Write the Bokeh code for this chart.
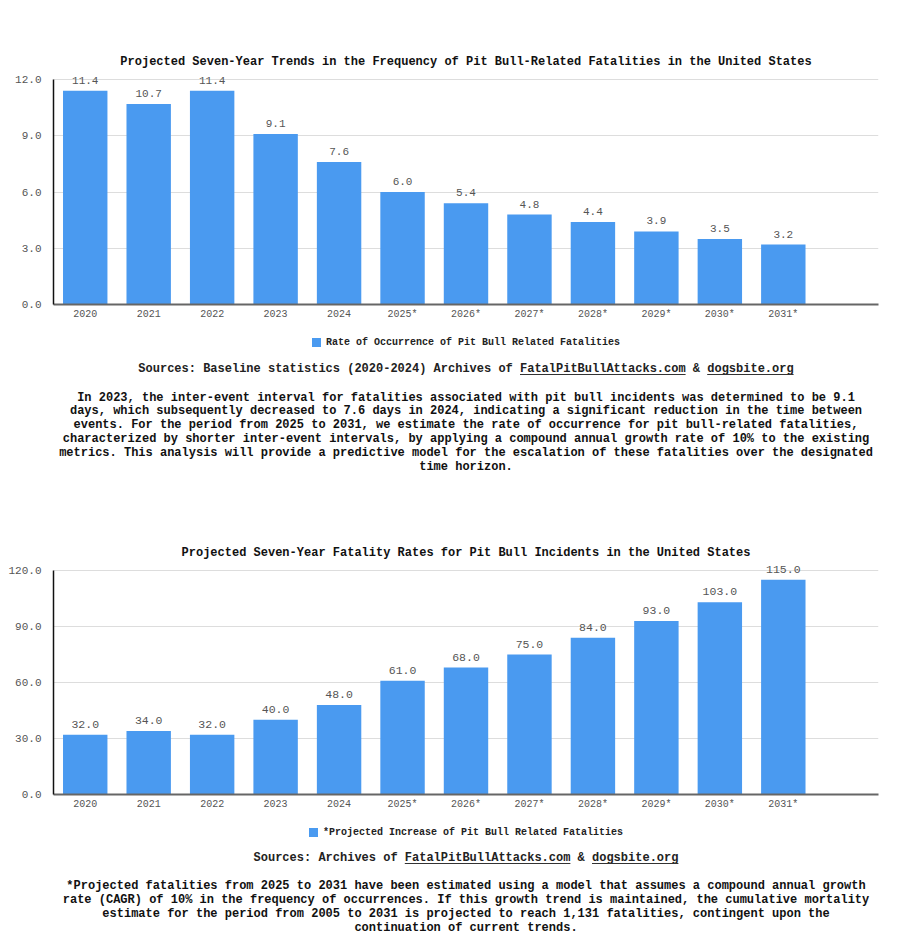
from bokeh.plotting import figure
from bokeh.models import Range1d, FixedTicker, PrintfTickFormatter, ColumnDataSource
from bokeh.layouts import column
from bokeh.core.properties import value
from bokeh.embed import file_html
from bokeh.resources import INLINE

FONT = "Liberation Mono"
BLUE = "#4a9af0"

years = ["2020", "2021", "2022", "2023", "2024", "2025*", "2026*", "2027*",
         "2028*", "2029*", "2030*", "2031*"]
rate_values = [11.4, 10.7, 11.4, 9.1, 7.6, 6.0, 5.4, 4.8, 4.4, 3.9, 3.5, 3.2]
fatality_values = [32.0, 34.0, 32.0, 40.0, 48.0, 61.0, 68.0, 75.0, 84.0, 93.0, 103.0, 115.0]

title1 = "Projected Seven-Year Trends in the Frequency of Pit Bull-Related Fatalities in the United States"
legend1 = "Rate of Occurrence of Pit Bull Related Fatalities"
sources1 = "Sources: Baseline statistics (2020-2024) Archives of FatalPitBullAttacks.com & dogsbite.org"
para1 = [
    "In 2023, the inter-event interval for fatalities associated with pit bull incidents was determined to be 9.1",
    "days, which subsequently decreased to 7.6 days in 2024, indicating a significant reduction in the time between",
    "events. For the period from 2025 to 2031, we estimate the rate of occurrence for pit bull-related fatalities,",
    "characterized by shorter inter-event intervals, by applying a compound annual growth rate of 10% to the existing",
    "metrics. This analysis will provide a predictive model for the escalation of these fatalities over the designated",
    "time horizon.",
]

title2 = "Projected Seven-Year Fatality Rates for Pit Bull Incidents in the United States"
legend2 = "*Projected Increase of Pit Bull Related Fatalities"
sources2 = "Sources: Archives of FatalPitBullAttacks.com & dogsbite.org"
para2 = [
    "*Projected fatalities from 2025 to 2031 have been estimated using a model that assumes a compound annual growth",
    "rate (CAGR) of 10% in the frequency of occurrences. If this growth trend is maintained, the cumulative mortality",
    "estimate for the period from 2005 to 2031 is projected to reach 1,131 fatalities, contingent upon the",
    "continuation of current trends.",
]
links = ["FatalPitBullAttacks.com", "dogsbite.org"]

W = 895
BL, BR = 53, 17          # left / right borders around the frames
FX0, FX1 = BL, W - BR    # frame extent in canvas pixels
CX = (FX0 + FX1) / 2


def bar_chart(title, values, ymax, ystep, height, top, bottom, axis_px, label_size):
    # frame is a little taller than the axis (top headroom so value labels are not clipped);
    # the top tick sits axis_px above the bottom of the frame
    frame_h = height - top - bottom
    yend = ymax * frame_h / axis_px
    p = figure(width=W, height=height, x_range=Range1d(-0.5, 12.5), y_range=Range1d(0, yend),
               output_backend="svg", toolbar_location=None,
               min_border_left=BL, min_border_right=BR, min_border_top=top,
               min_border_bottom=bottom)
    p.outline_line_color = None
    p.title.text = title
    p.title.align = "center"
    p.title.text_font = FONT
    p.title.text_font_size = "12px"
    p.title.text_font_style = "bold"
    p.title.text_color = "#111111"
    p.title.standoff = 0

    src = ColumnDataSource(dict(x=list(range(len(years))), top=values,
                                lab=[f"{v:.1f}" for v in values]))
    p.vbar(x="x", top="top", width=0.7, source=src, fill_color=BLUE, line_color=None)
    p.text(x="x", y="top", text="lab", source=src, text_align="center", text_baseline="bottom",
           y_offset=-7, text_font=value(FONT), text_font_size=label_size, text_color="#555555")

    p.xgrid.visible = False
    p.ygrid.grid_line_color = "#dddddd"
    p.ygrid.grid_line_width = 1

    xa = p.xaxis[0]
    xa.ticker = FixedTicker(ticks=list(range(len(years))))
    xa.major_label_overrides = {i: y for i, y in enumerate(years)}
    xa.major_tick_line_color = None
    xa.minor_tick_line_color = None
    xa.major_tick_out = 0
    xa.major_tick_in = 0
    xa.axis_line_color = "#666666"
    xa.axis_line_width = 2
    xa.major_label_text_font = FONT
    xa.major_label_text_font_size = "10px"
    xa.major_label_text_color = "#555555"
    xa.major_label_standoff = 4

    ya = p.yaxis[0]
    ya.ticker = FixedTicker(ticks=[i * ystep for i in range(5)])
    ya.formatter = PrintfTickFormatter(format="%.1f")
    ya.bounds = (0, ymax)
    ya.major_tick_line_color = None
    ya.minor_tick_line_color = None
    ya.major_tick_out = 0
    ya.major_tick_in = 0
    ya.axis_line_color = "#111111"
    ya.axis_line_width = 1.5
    ya.major_label_text_font = FONT
    ya.major_label_text_font_size = "11px"
    ya.major_label_text_color = "#555555"
    ya.major_label_standoff = 12
    return p


def text_block(height, leg_y, leg_text, src_y, src_text, lines, y0, dy):
    # data units equal canvas pixels (frame spans FX0..FX1, y grows downward)
    p = figure(width=W, height=height, x_range=Range1d(FX0, FX1), y_range=Range1d(height, 0),
               output_backend="svg", toolbar_location=None,
               min_border_left=BL, min_border_right=BR, min_border_top=0, min_border_bottom=0,
               x_axis_location=None, y_axis_location=None)
    p.outline_line_color = None
    p.grid.visible = False
    # legend: swatch + label
    lw = 9 + 5 + len(leg_text) * 6.0
    lx = CX - lw / 2
    p.rect(x=[lx + 4.5], y=[leg_y], width=9, height=9, width_units="screen",
           height_units="screen", fill_color=BLUE, line_color=None)
    p.text(x=[lx + 14], y=[leg_y], text=[leg_text], text_align="left", text_baseline="middle",
           text_font=value(FONT), text_font_size="10px", text_font_style="bold",
           text_color="#222222")
    # sources with underlined links
    p.text(x=[CX], y=[src_y], text=[src_text], text_align="center", text_baseline="middle",
           text_font=value(FONT), text_font_size="12px", text_font_style="bold",
           text_color="#222222")
    cw = 0.6 * 12
    start = CX - len(src_text) * cw / 2
    x0s, x1s, ys = [], [], []
    for lk in links:
        k = src_text.find(lk)
        x0s.append(start + k * cw)
        x1s.append(start + (k + len(lk)) * cw)
        ys.append(src_y + 6)
    p.segment(x0=x0s, y0=ys, x1=x1s, y1=ys, line_color="#333333", line_width=1)
    p.text(x=[CX] * len(lines), y=[y0 + i * dy for i in range(len(lines))], text=lines,
           text_align="center", text_baseline="middle", text_font=value(FONT),
           text_font_size="12px", text_font_style="bold", text_color="#111111")
    return p


a = bar_chart(title1, rate_values, 12, 3, 328, 68, 24, 225, "11px")
b = text_block(207, 14, legend1, 40, sources1, para1, 69, 13.8)
c = bar_chart(title2, fatality_values, 120, 30, 282, 24, 23, 224, "11.5px")
d = text_block(117, 15, legend2, 40, sources2, para2, 68, 14)

layout = column(a, b, c, d, spacing=0)
open("out.html", "w").write(file_html(layout, INLINE))
